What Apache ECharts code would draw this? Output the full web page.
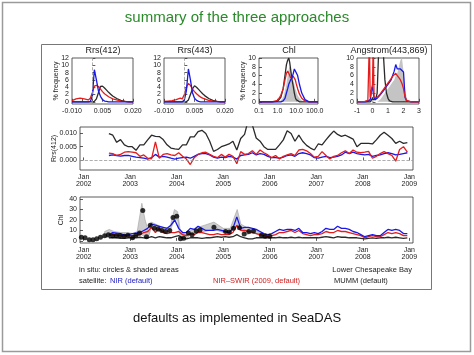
<!DOCTYPE html>
<html><head><meta charset="utf-8">
<script src="https://cdn.jsdelivr.net/npm/echarts@6/dist/echarts.min.js"></script>
<style>html,body{margin:0;padding:0;background:#fff}#c{width:474px;height:355px}</style>
</head><body><div id="c"></div>
<script>
// ---------- histogram data ----------
const rrsBins = [-0.010,-0.008,-0.006,-0.004,-0.002,-0.001,0.000,0.001,0.002,0.003,0.004,0.005,0.006,0.007,0.008,0.009,0.010,0.012,0.014,0.016,0.018,0.020];
const rrs412NIR  = [0,0,0,0,0,0.1,1.5,8.8,6,3,1.5,0.6,0.2,0.1,0,0,0,0,0,0,0,0];
const rrs412SWIR = [0.3,0.8,1,0.8,0.5,1,2.5,4.3,4.5,4.2,3.5,2.8,2.2,1.8,1.4,1.1,0.8,0.5,0.2,0.1,0,0];
const rrs412MUMM = [0,0,0,0,0,0,0,0.1,0.8,2.5,4.2,4.3,3.8,3.2,2.6,2.1,1.6,0.9,0.4,0.1,0,0];
const rrs443NIR  = [0,0,0,0,0,0,0.5,3,9,6,2.5,1,0.4,0.1,0,0,0,0,0,0,0,0];
const rrs443SWIR = [0.1,0.2,0.3,0.6,1,0.8,2,4,5,4.5,3.5,2.8,2.2,1.7,1.3,1,0.8,0.4,0.2,0.1,0,0];
const rrs443MUMM = [0,0,0,0,0,0,0,0,0.5,2,3.5,4.4,4,3.4,2.8,2.2,1.7,0.9,0.4,0.1,0,0];

const chlBins   = [0.1,0.5,1,1.5,2,2.5,3,3.5,4,4.5,5,6,7,8,9,10,12,15,20,30,50,100,150];
const chlInsitu = [0,0,0,0.3,1,2.5,4,6,7.5,8,7.5,6,5,4,3,2.5,1.5,0.8,0.3,0,0,0,0];
const chlMUMM   = [0,0,0.1,1,3,6,8.5,9.5,10,9,7.5,5,3.5,2,1,0.5,0.2,0,0,0,0,0,0];
const chlSWIR   = [0,0,0.3,1.5,3,5,6.5,7,6.5,6,5.5,5.5,5.8,5.5,5,4.2,3,1.8,0.8,0.2,0,0,0];
const chlNIR    = [0,0,0,0,0.2,0.8,2,3,4,4.5,5,5.5,6.5,7.5,7.8,7.5,6,4,2,0.5,0,0,0];

const angBins   = [-1,-0.5,-0.3,-0.2,-0.15,-0.1,-0.05,0,0.05,0.1,0.15,0.2,0.3,0.4,0.5,0.6,0.7,0.8,0.9,1.0,1.1,1.2,1.3,1.4,1.5,1.6,1.7,1.8,1.9,2.0,2.05,2.1,2.2,2.3,2.5,3];
const angInsitu = [0,0,0,0,0,0,0,0.5,0.3,0,0,0,0,0,0.5,1,1.5,2,2.5,3,3.5,4,4.5,5,6,6.5,8,9.5,10,7,5,3,1,0,0,0];
const angMUMM   = [0,0,0,0,0,0,0.5,1,0.5,0.3,0.3,0.5,2,12,16,15,11,5,2,0.8,0.2,0,0,0,0,0,0,0,0,0,0,0,0,0,0,0];
const angSWIR   = [0,0.1,0.3,14,1,2,3,4,14,1,0.8,0.8,1,1.3,1.8,2.3,2.8,3.3,3.8,4.2,4.8,5.3,5.8,6.2,6.5,6,5.5,5,4.2,3,2,1.2,0.3,0,0,0];
const angNIR    = [0,0,0.1,0.3,0.5,1.5,3,3.5,2,1,0.5,0.5,0.8,1.2,1.6,2,2.5,3,3.5,4,4.5,5,6,7,8.5,7.5,7.8,7.5,7.2,6.8,6.5,1,0.2,0,0,0];

// ---------- time series (monthly, Jul 2002 - Dec 2008) ----------
const tsMonths = [];
for (let y = 2002; y <= 2008; y++) for (let m = 1; m <= 12; m++) if (y > 2002 || m >= 7) tsMonths.push(y + '-' + String(m).padStart(2, '0'));

const rrsTsMUMM = [0.0098,0.0092,0.0066,0.0076,0.0057,0.0050,
  0.0050,0.0037,0.0057,0.0057,0.0075,0.0092,0.0088,0.0087,0.0076,0.0057,0.0045,0.0042,
  0.0040,0.0057,0.0057,0.0086,0.0086,0.0105,0.0110,0.0098,0.0070,0.0033,0.0040,0.0050,
  0.0055,0.0060,0.0070,0.0038,0.0080,0.0095,0.0150,0.0130,0.0082,0.0070,0.0050,0.0040,
  0.0040,0.0040,0.0057,0.0075,0.0108,0.0098,0.0070,0.0092,0.0070,0.0055,0.0045,0.0038,
  0.0060,0.0057,0.0075,0.0092,0.0107,0.0095,0.0088,0.0092,0.0085,0.0078,0.0050,0.0062,
  0.0062,0.0062,0.0060,0.0075,0.0092,0.0103,0.0092,0.0080,0.0062,0.0070,0.0062,0.0065];
const rrsTsSWIR = [0.0027,0.0025,0.0018,0.0022,0.0030,0.0032,
  0.0030,0.0028,0.0015,0.0020,0.0008,0.0006,0.0068,0.0008,0.0022,0.0025,0.0020,0.0018,
  0.0028,0.0015,0.0005,-0.0015,0.0010,0.0022,0.0028,0.0030,0.0022,0.0015,0.0010,0.0022,
  0.0012,0.0022,0.0015,-0.0012,0.0032,0.0022,0.0025,0.0035,0.0022,0.0038,0.0028,0.0020,
  0.0010,0.0018,0.0005,0.0015,0.0020,0.0025,0.0018,0.0038,0.0040,0.0035,0.0025,0.0012,
  0.0015,0.0032,0.0018,0.0005,0.0015,0.0018,0.0028,0.0035,0.0025,0.0038,0.0030,0.0028,
  0.0030,0.0033,0.0008,0.0015,0.0025,0.0032,0.0025,0.0018,-0.0003,0.0040,0.0050,0.0030];
const rrsTsNIR = [0.0018,0.0020,0.0018,0.0016,0.0018,0.0018,
  0.0015,0.0012,0.0010,0.0008,0.0005,0.0010,0.0022,0.0012,0.0015,0.0012,0.0008,0.0005,
  0.0008,0.0010,0.0012,0.0008,0.0015,0.0022,0.0025,0.0025,0.0020,0.0012,0.0008,0.0012,
  0.0010,0.0015,0.0012,0.0005,0.0018,0.0020,0.0022,0.0028,0.0020,0.0025,0.0022,0.0015,
  0.0010,0.0010,0.0008,0.0012,0.0018,0.0020,0.0015,0.0025,0.0028,0.0025,0.0020,0.0010,
  0.0008,0.0012,0.0015,0.0010,0.0012,0.0015,0.0020,0.0030,0.0025,0.0030,0.0025,0.0022,
  0.0020,0.0022,0.0015,0.0018,0.0020,0.0025,0.0028,0.0025,0.0020,0.0022,0.0025,0.0028];

const chlTsNIR = [6,8,7.5,7,5.5,6,
  7,7.5,8,10,12,16,15,14,13,12,15,20,
  12,8,8,12,11,14,12,10,10,10,11,10,
  9,8,12,23,12,13,13,12,11,9,7,6,
  7,9,11,10,11,11,10,12,8,8,7,8,
  7,9,12,11,11,14,12,12,11,9,8,6,
  4,5,6,5,5,8,11,10,11,10,7,7];
const chlTsSWIR = [5,6,5.5,5,4.5,5,
  5,5,6,8,9,13,8,12,8,7,8,8,
  9,6,5,7,6,8,8,7,6,6,7,6,
  6,6,8,15,10,10,9,8,7,6,5,4,
  5,6,8,8,9,10,8,10,7,6,5,6,
  6,7,9,8,8,10,9,9,8,7,6,5,
  3,4,5,4,4,6,8,7,8,7,5,5];
const chlTsMUMM = [3,3,3,2.5,2.5,3,
  3,3,3.5,3,3,4,3,4,3.5,3,3,4,
  5,3,2,3,3,3,2.5,3,3,3.5,4,3.5,
  4,3.5,4,6,4,3,2,2,3,3,3,3,
  3,3,3.5,3,3,3.5,3,3.5,3,3,3,3,
  3,3.5,4,3.5,3,4,3.5,3.5,3,3,3,2.5,
  2,2.5,3,2.5,3,3,3.5,3,3.5,3,2.5,3];

// in situ circles
const insituT = [2001.95,2002.03,2002.12,2002.2,2002.28,2002.36,2002.45,2002.53,2002.62,2002.7,2002.78,2002.87,2002.95,2003.05,2003.12,2003.2,2003.27,2003.35,2003.43,2003.52,2003.6,2003.68,2003.76,2003.85,2003.92,2004.0,2004.08,2004.15,2004.25,2004.33,2004.42,2004.5,2004.8,2005.05,2005.13,2005.22,2005.35,2005.45,2005.55,2005.65,2005.82,2005.9,2006.0];
const insituChl = [3.5,3,1,1,2,3.5,5,6,5,5,5,4.5,5.5,3,5.5,7.5,29,4,15,12,11.5,10,9,10,22.5,23.5,2,2.5,7.5,6,9.5,10.5,13,9,8.5,12,12.5,6.5,9,9.5,5.5,4.5,4.5];
// in situ range (shaded)
const bandT  = [2002.45,2002.55,2002.65,2002.8,2002.95,2003.05,2003.15,2003.25,2003.32,2003.4,2003.45,2003.55,2003.7,2003.85,2003.95,2004.02,2004.08,2004.2,2004.3,2004.45,2004.6,2004.8,2005.0,2005.15,2005.3,2005.38,2005.5,2005.65,2005.8,2005.95];
const bandLo = [4,3,3,3,3,2,4,6,3,5,12,10,8,9,20,20,2,2,6,8,9,11,8,8,14,10,6,8,5,3];
const bandHi = [9,11,9,8,8,7,9,36,20,8,18,16,13,12,30,28,8,6,10,13,15,18,12,12,30,16,13,11,8,6];

const yearTicks = [2002,2003,2004,2005,2006,2007,2008,2009];

// ---------- helpers ----------
const FONT = 'Liberation Sans, Arial, sans-serif';
const BLUE = '#1818e8', RED = '#e41c1c', BLACK = '#2a2a2a', GRAY = '#c4c4c4';
const zip = (xs, ys) => xs.map((x, i) => [x, ys[i]]);
const decYear = s => { const [y, m] = s.split('-').map(Number); return y + (m - 0.5) / 12; };
const tsX = tsMonths.map(decYear);

function line(idx, data, color, extra) {
  return Object.assign({type: 'line', xAxisIndex: idx, yAxisIndex: idx, data, showSymbol: false, symbol: 'none',
    lineStyle: {color, width: 1.3}, itemStyle: {color}, animation: false, z: 3}, extra || {});
}
function area(idx, data) {
  return {type: 'line', xAxisIndex: idx, yAxisIndex: idx, data, symbol: 'none',
    lineStyle: {width: 0}, areaStyle: {color: GRAY, opacity: 1}, animation: false, z: 1};
}

const gridBase = {show: true, borderColor: '#333', borderWidth: 0.8, backgroundColor: 'transparent', containLabel: false};
const grids = [
  {left: 72, top: 58, width: 61, height: 46},
  {left: 164, top: 58, width: 61, height: 46},
  {left: 259, top: 58, width: 59, height: 46},
  {left: 357, top: 58, width: 62, height: 46},
  {left: 80, top: 127, width: 333, height: 43},
  {left: 80, top: 197, width: 333, height: 46}
].map(g => Object.assign({}, gridBase, g));

const lab = {fontFamily: FONT, fontSize: 7, color: '#222', margin: 4};
const axLine = {show: false};
const tick = {show: true, inside: true, length: 3, lineStyle: {color: '#333', width: 0.8}};

function xVal(gi, min, max, labels, ticks, fmt) {
  return {type: 'value', gridIndex: gi, min, max, axisLine: axLine, splitLine: {show: false},
    axisTick: Object.assign({}, tick, {customValues: ticks}),
    axisLabel: Object.assign({}, lab, {customValues: labels, formatter: fmt})};
}
function yVal(gi, min, max, labels, fmt, name, gap) {
  return {type: 'value', gridIndex: gi, min, max, axisLine: axLine, splitLine: {show: false},
    axisTick: Object.assign({}, tick, {customValues: labels}),
    axisLabel: Object.assign({}, lab, {customValues: labels, formatter: fmt, margin: 3}),
    name: name || '', nameLocation: 'middle', nameGap: gap || 12, nameRotate: 90, nameMoveOverlap: false,
    nameTextStyle: {fontFamily: FONT, fontSize: 7, color: '#222'}};
}

const xAxes = [
  xVal(0, -0.010, 0.020, [-0.010, 0.005, 0.020], [-0.010,-0.005,0,0.005,0.010,0.015,0.020], v => v.toFixed(3)),
  xVal(1, -0.010, 0.020, [-0.010, 0.005, 0.020], [-0.010,-0.005,0,0.005,0.010,0.015,0.020], v => v.toFixed(3)),
  {type: 'log', logBase: 10, gridIndex: 2, min: 0.1, max: 150, axisLine: axLine, splitLine: {show: false},
    axisTick: Object.assign({}, tick, {customValues: [0.1, 1, 10, 100]}),
    axisLabel: Object.assign({}, lab, {customValues: [0.1, 1, 10, 100], formatter: v => Number(v).toFixed(1)})},
  xVal(3, -1, 3, [-1, 0, 1, 2, 3], [-1, 0, 1, 2, 3], v => String(v)),
  xVal(4, 2001.92, 2009.08, yearTicks, yearTicks, v => 'Jan\n' + Math.round(v)),
  xVal(5, 2001.92, 2009.08, yearTicks, yearTicks, v => 'Jan\n' + Math.round(v))
];
xAxes[4].axisLabel.lineHeight = 7; xAxes[5].axisLabel.lineHeight = 7;

const yAxes = [
  yVal(0, -0.6, 12, [0,2,4,6,8,10,12], v => String(v), '% frequency', 12),
  yVal(1, -0.6, 12, [0,2,4,6,8,10,12], v => String(v)),
  yVal(2, -0.5, 10, [0,2,4,6,8,10], v => String(v), '% frequency', 12),
  yVal(3, -0.5, 10, [0,2,4,6,8,10], v => String(v)),
  yVal(4, -0.0035, 0.0122, [0, 0.005, 0.010], v => v.toFixed(3), 'Rrs(412)', 22),
  yVal(5, -2, 42, [0, 10, 20, 30, 40], v => String(v), 'Chl', 15)
];

const dashV = {silent: true, symbol: 'none', label: {show: false}, lineStyle: {color: '#999', type: 'dashed', width: 0.8}, data: [{xAxis: 0}]};

const series = [
  // H1
  line(0, zip(rrsBins, rrs412MUMM), BLACK),
  line(0, zip(rrsBins, rrs412SWIR), RED),
  line(0, zip(rrsBins, rrs412NIR), BLUE, {markLine: dashV}),
  // H2
  line(1, zip(rrsBins, rrs443MUMM), BLACK),
  line(1, zip(rrsBins, rrs443SWIR), RED),
  line(1, zip(rrsBins, rrs443NIR), BLUE, {markLine: dashV}),
  // H3
  area(2, zip(chlBins, chlInsitu)),
  line(2, zip(chlBins, chlMUMM), BLACK),
  line(2, zip(chlBins, chlSWIR), RED),
  line(2, zip(chlBins, chlNIR), BLUE),
  // H4
  area(3, zip(angBins, angInsitu)),
  line(3, zip(angBins, angMUMM), BLACK),
  line(3, zip(angBins, angNIR), BLUE),
  line(3, zip(angBins, angSWIR), RED),
  // TS1
  line(4, zip(tsX, rrsTsMUMM), BLACK, {markLine: {silent: true, symbol: 'none', label: {show: false},
    lineStyle: {color: '#999', type: 'dashed', width: 0.8}, data: [{yAxis: 0}]}}),
  line(4, zip(tsX, rrsTsNIR), BLUE),
  line(4, zip(tsX, rrsTsSWIR), RED),
  // TS2 band
  {type: 'custom', xAxisIndex: 5, yAxisIndex: 5, data: [0], animation: false, z: 1, silent: true,
    renderItem: function (params, api) {
      const pts = [];
      for (let i = 0; i < bandT.length; i++) pts.push(api.coord([bandT[i], bandHi[i]]));
      for (let i = bandT.length - 1; i >= 0; i--) pts.push(api.coord([bandT[i], bandLo[i]]));
      return {type: 'polygon', shape: {points: pts}, style: {fill: '#cdcdcd', stroke: '#a0a0a0', lineWidth: 0.6}};
    }},
  line(5, zip(tsX, chlTsMUMM), BLACK),
  line(5, zip(tsX, chlTsSWIR), RED),
  line(5, zip(tsX, chlTsNIR), BLUE),
  {type: 'scatter', xAxisIndex: 5, yAxisIndex: 5, data: zip(insituT, insituChl), symbolSize: 5,
    itemStyle: {color: '#000'}, animation: false, z: 5}
];

function txt(x, y, s, size, color, align) {
  return {type: 'text', x, y, silent: true,
    style: {text: s, fontFamily: FONT, fontSize: size, fill: color || '#222', textAlign: align || 'left', textVerticalAlign: 'middle'}};
}

const graphic = [
  {type: 'rect', shape: {x: 2.5, y: 2.5, width: 468, height: 349}, style: {fill: 'none', stroke: '#9a9a9a', lineWidth: 1.5}, silent: true},
  {type: 'rect', shape: {x: 41.5, y: 44.5, width: 390, height: 245}, style: {fill: 'none', stroke: '#777', lineWidth: 1}, silent: true},
  txt(237, 18, 'summary of the three approaches', 15, '#2a8a2a', 'center'),
  txt(103, 51, 'Rrs(412)', 9, '#222', 'center'),
  txt(195, 51, 'Rrs(443)', 9, '#222', 'center'),
  txt(289, 51, 'Chl', 9, '#222', 'center'),
  txt(389, 51, 'Angstrom(443,869)', 9, '#222', 'center'),
  txt(79, 270, 'in situ: circles & shaded areas', 7.5),
  txt(79, 281, 'satellite:', 7.5),
  txt(110, 281, 'NIR (default)', 7.5, '#2020c0'),
  txt(213, 281, 'NIR\u2013SWIR (2009, default)', 7.5, '#d02020'),
  txt(412, 270, 'Lower Chesapeake Bay', 7.5, '#222', 'right'),
  txt(334, 281, 'MUMM (default)', 7.5),
  txt(237, 318, 'defaults as implemented in SeaDAS', 13, '#111', 'center')
];

const chart = echarts.init(document.getElementById('c'), null, {renderer: 'canvas'});
chart.setOption({animation: false, backgroundColor: '#fff', grid: grids, xAxis: xAxes, yAxis: yAxes, series, graphic});
</script></body></html>
